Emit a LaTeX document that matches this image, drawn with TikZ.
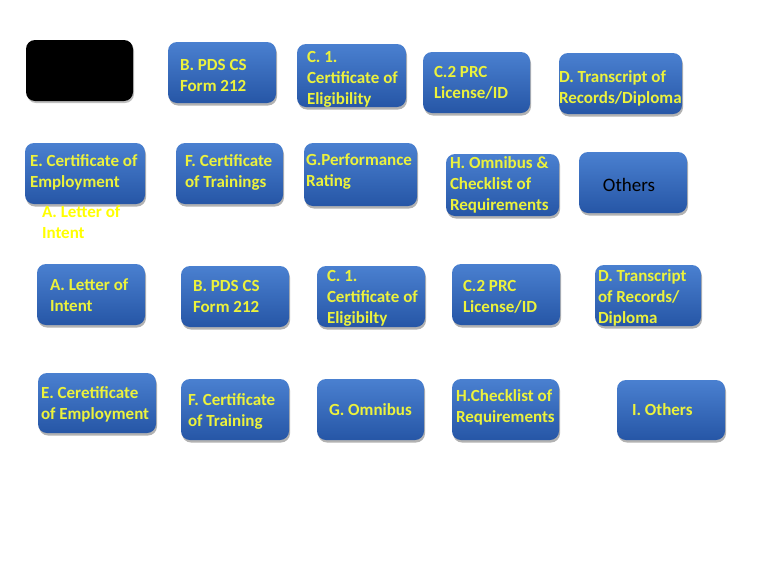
\documentclass[tikz,border=0pt]{standalone}
\usepackage{fontspec}
\setmainfont{Carlito}
\usetikzlibrary{shadows}
\definecolor{boxtop}{RGB}{74,128,208}
\definecolor{boxbot}{RGB}{38,86,166}
\definecolor{txtyel}{RGB}{236,242,60}
\definecolor{purey}{RGB}{255,255,0}
\tikzset{
  box/.style={rectangle, rounded corners=9pt, top color=boxtop, bottom color=boxbot,
    draw=none, inner sep=0pt, outer sep=0pt, anchor=north west,
    drop shadow={shadow xshift=1pt, shadow yshift=-2.5pt, opacity=0.3, fill=black}},
  blackbox/.style={rectangle, rounded corners=9pt, fill=black, draw=none,
    inner sep=0pt, outer sep=0pt, anchor=north west,
    drop shadow={shadow xshift=1pt, shadow yshift=-2pt, opacity=0.25, fill=black}},
  lbl/.style={anchor=north west, inner sep=0pt, outer sep=0pt, align=left,
    text=txtyel, font=\fontsize{17}{21}\selectfont\bfseries},
  floatlbl/.style={lbl, text=purey},
  plainlbl/.style={anchor=center, inner sep=0pt, text=black,
    font=\fontsize{19}{21}\selectfont}
}
\begin{document}
\begin{tikzpicture}[x=1pt,y=-1pt]
\useasboundingbox (0,0) rectangle (768,576);
\fill[white] (0,0) rectangle (768,576);
% Row 1
\node[blackbox, minimum width=107pt, minimum height=61pt] (k0) at (26,40) {};
\node[box, minimum width=108pt, minimum height=61pt] (r1b) at (168,42) {};
\node[lbl] (r1bt) at (180,59) {B. PDS CS\\Form 212};
\node[box, minimum width=109pt, minimum height=63pt] (r1c) at (297,44) {};
\node[lbl] (r1ct) at (307,51) {C. 1.\\Certificate of\\Eligibility};
\node[box, minimum width=107pt, minimum height=61pt] (r1d) at (423,52) {};
\node[lbl] (r1dt) at (434,66) {C.2 PRC\\License/ID};
\node[box, minimum width=123pt, minimum height=61pt] (r1e) at (559,53) {};
\node[lbl] (r1et) at (559,71) {D. Transcript of\\Records/Diploma};
% Row 2
\node[box, minimum width=120pt, minimum height=61pt] (r2a) at (25,143) {};
\node[lbl] (r2at) at (30,155) {E. Certificate of\\Employment};
\node[floatlbl] (r2ft) at (42,206) {A. Letter of\\Intent};
\node[box, minimum width=107pt, minimum height=61pt] (r2b) at (176,143) {};
\node[lbl] (r2bt) at (185,155) {F. Certificate\\of Trainings};
\node[box, minimum width=113pt, minimum height=63pt] (r2c) at (304,143) {};
\node[lbl] (r2ct) at (306,154) {G.Performance\\Rating};
\node[box, minimum width=113pt, minimum height=62pt] (r2d) at (446,154) {};
\node[lbl] (r2dt) at (450,157) {H. Omnibus \&\\Checklist of\\Requirements};
\node[box, minimum width=108pt, minimum height=61pt] (r2e) at (579,152) {};
\node[plainlbl] (r2et) at (629,185) {Others};
% Row 3
\node[box, minimum width=108pt, minimum height=61pt] (r3a) at (37,264) {};
\node[lbl] (r3at) at (50,279) {A. Letter of\\Intent};
\node[box, minimum width=108pt, minimum height=61pt] (r3b) at (181,266) {};
\node[lbl] (r3bt) at (193,280.5) {B. PDS CS\\Form 212};
\node[box, minimum width=108pt, minimum height=61pt] (r3c) at (317,266) {};
\node[lbl] (r3ct) at (327,270) {C. 1.\\Certificate of\\Eligibilty};
\node[box, minimum width=108pt, minimum height=61pt] (r3d) at (452,264) {};
\node[lbl] (r3dt) at (463,280) {C.2 PRC\\License/ID};
\node[box, minimum width=106pt, minimum height=61pt] (r3e) at (595,265) {};
\node[lbl] (r3et) at (598,270) {D. Transcript\\of Records/\\Diploma};
% Row 4
\node[box, minimum width=118pt, minimum height=60pt] (r4a) at (38,373) {};
\node[lbl] (r4at) at (41,387) {E. Ceretificate\\of Employment};
\node[box, minimum width=108pt, minimum height=61pt] (r4b) at (181,379) {};
\node[lbl] (r4bt) at (188,394) {F. Certificate\\of Training};
\node[box, minimum width=107pt, minimum height=61pt] (r4c) at (317,379) {};
\node[lbl] (r4ct) at (329,404) {G. Omnibus};
\node[box, minimum width=107pt, minimum height=61pt] (r4d) at (452,379) {};
\node[lbl] (r4dt) at (456,390) {H.Checklist of\\Requirements};
\node[box, minimum width=108pt, minimum height=60pt] (r4e) at (617,380) {};
\node[lbl] (r4et) at (632,404) {I. Others};
\end{tikzpicture}
\end{document}
